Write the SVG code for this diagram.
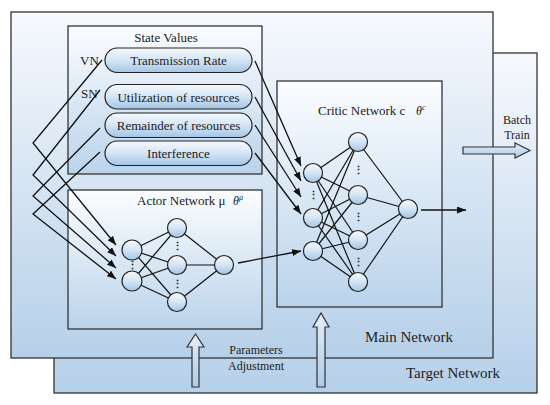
<svg xmlns="http://www.w3.org/2000/svg" width="550" height="405" viewBox="0 0 550 405">
<defs>
<linearGradient id="gBg" x1="0" y1="0" x2="0" y2="1">
<stop offset="0" stop-color="#f6f9fd"/>
<stop offset="1" stop-color="#b6d0e9"/>
</linearGradient>
<linearGradient id="gBox" x1="0" y1="0" x2="0" y2="1">
<stop offset="0" stop-color="#fbfdff"/>
<stop offset="1" stop-color="#bad3eb"/>
</linearGradient>
<linearGradient id="gPill" x1="0" y1="0" x2="0" y2="1">
<stop offset="0" stop-color="#f6f9fd"/>
<stop offset="0.5" stop-color="#d4e5f5"/>
<stop offset="1" stop-color="#a4c5e5"/>
</linearGradient>
<linearGradient id="gArr" x1="0" y1="0" x2="0" y2="1">
<stop offset="0" stop-color="#e4eef8"/>
<stop offset="1" stop-color="#aecbe7"/>
</linearGradient>
<marker id="ah" markerUnits="userSpaceOnUse" markerWidth="9" markerHeight="7" refX="9" refY="3.5" orient="auto">
<path d="M0,0 L9,3.5 L0,7 z" fill="#111"/>
</marker>
</defs>
<style>
.frame{stroke:#333;stroke-width:1.3}
.box{fill:url(#gBox);stroke:#333;stroke-width:1.3}
.pill{fill:url(#gPill);stroke:#222;stroke-width:1.2}
.node{fill:url(#gPill);stroke:#222;stroke-width:1.2}
.ln{stroke:#111;stroke-width:1.2;fill:none}
.arw{stroke:#111;stroke-width:1.3;fill:none;marker-end:url(#ah)}
.blk{fill:url(#gArr);stroke:#333;stroke-width:1.2}
text{fill:#222}
.t13{font-size:13px}
.t12{font-size:12px}
.t15{font-size:15px}
.dots{font-size:11px;font-weight:bold}
.th{font-style:italic;font-size:12px}
</style>
<g font-family="Liberation Serif, Times New Roman, Times, DejaVu Serif, serif">
<g id="target-network">
<rect x="54" y="53" width="483" height="340" fill="url(#gBg)" class="frame"/>
<text x="453" y="378" text-anchor="middle" class="t15">Target Network</text>
</g>

<g id="main-network">
<rect x="11" y="12" width="482" height="346" fill="url(#gBg)" class="frame"/>
<text x="409" y="342" text-anchor="middle" class="t15">Main Network</text>
</g>

<g id="state-values">
<rect x="68" y="26" width="194" height="148" class="box"/>
<text x="166" y="42" text-anchor="middle" class="t13">State Values</text>
<text x="80" y="65" class="t13">VN</text>
<text x="81" y="98" class="t13">SN</text>
</g>
<g id="transmission-rate">
<rect x="105" y="48" width="147" height="24.5" rx="12.25" class="pill"/>
<text x="178.5" y="65" text-anchor="middle" class="t13">Transmission Rate</text>
</g>
<g id="utilization">
<rect x="105" y="84.5" width="147" height="24.5" rx="12.25" class="pill"/>
<text x="178.5" y="101.5" text-anchor="middle" class="t13">Utilization of resources</text>
</g>
<g id="remainder">
<rect x="105" y="113" width="147" height="24.5" rx="12.25" class="pill"/>
<text x="178.5" y="130" text-anchor="middle" class="t13">Remainder of resources</text>
</g>
<g id="interference">
<rect x="105" y="141" width="147" height="24.5" rx="12.25" class="pill"/>
<text x="178.5" y="158" text-anchor="middle" class="t13">Interference</text>
</g>

<g id="actor-network">
<rect x="68" y="190" width="194" height="139" class="box"/>
<text x="137" y="205" class="t13">Actor Network  μ</text>
<text x="233" y="205" class="th">θ<tspan font-size="8" dy="-5">μ</tspan></text>
</g>

<g id="critic-network">
<rect x="277" y="81" width="165" height="226" class="box"/>
<text x="318" y="115" class="t13">Critic Network c</text>
<text x="416" y="115" class="th">θ<tspan font-size="8" dy="-5">c</tspan></text>
</g>

<g id="connectors">
<polyline class="arw" points="102,60 33,143 116,245"/>
<polyline class="arw" points="100,90 33,175 116,256"/>
<polyline class="arw" points="100,128 33,196 116,268"/>
<polyline class="arw" points="100,152 33,214 116,279"/>
<line class="arw" x1="255" y1="61" x2="301" y2="166"/>
<line class="arw" x1="255" y1="97" x2="301" y2="181"/>
<line class="arw" x1="255" y1="125" x2="301" y2="197"/>
<line class="arw" x1="255" y1="153" x2="301" y2="214"/>
<line class="ln" x1="132" y1="250" x2="177" y2="228"/>
<line class="ln" x1="132" y1="250" x2="177" y2="265"/>
<line class="ln" x1="132" y1="250" x2="177" y2="302"/>
<line class="ln" x1="132" y1="281" x2="177" y2="228"/>
<line class="ln" x1="132" y1="281" x2="177" y2="265"/>
<line class="ln" x1="132" y1="281" x2="177" y2="302"/>
<line class="ln" x1="177" y1="228" x2="224" y2="265"/>
<line class="ln" x1="177" y1="265" x2="224" y2="265"/>
<line class="ln" x1="177" y1="302" x2="224" y2="265"/>
<line class="arw" x1="238" y1="263" x2="301" y2="251"/>
<line class="ln" x1="313" y1="173" x2="358" y2="142"/>
<line class="ln" x1="313" y1="173" x2="358" y2="195"/>
<line class="ln" x1="313" y1="173" x2="358" y2="240"/>
<line class="ln" x1="313" y1="173" x2="358" y2="282"/>
<line class="ln" x1="313" y1="218" x2="358" y2="142"/>
<line class="ln" x1="313" y1="218" x2="358" y2="195"/>
<line class="ln" x1="313" y1="218" x2="358" y2="240"/>
<line class="ln" x1="313" y1="218" x2="358" y2="282"/>
<line class="ln" x1="313" y1="251" x2="358" y2="142"/>
<line class="ln" x1="313" y1="251" x2="358" y2="195"/>
<line class="ln" x1="313" y1="251" x2="358" y2="240"/>
<line class="ln" x1="313" y1="251" x2="358" y2="282"/>
<line class="ln" x1="358" y1="142" x2="408" y2="209"/>
<line class="ln" x1="358" y1="195" x2="408" y2="209"/>
<line class="ln" x1="358" y1="240" x2="408" y2="209"/>
<line class="ln" x1="358" y1="282" x2="408" y2="209"/>
<line class="arw" x1="421" y1="210" x2="466" y2="210"/>
</g>

<g id="actor-nodes">
<circle cx="132" cy="250" r="10" class="node"/>
<circle cx="132" cy="281" r="10" class="node"/>
<circle cx="177" cy="228" r="9.5" class="node"/>
<circle cx="177" cy="265" r="9.5" class="node"/>
<circle cx="177" cy="302" r="9.5" class="node"/>
<circle cx="224" cy="265" r="9.5" class="node"/>
<text x="132" y="269" text-anchor="middle" class="dots">⋮</text>
<text x="177" y="250" text-anchor="middle" class="dots">⋮</text>
<text x="177" y="288" text-anchor="middle" class="dots">⋮</text>
</g>

<g id="critic-nodes">
<circle cx="313" cy="173" r="9.5" class="node"/>
<circle cx="313" cy="218" r="9.5" class="node"/>
<circle cx="313" cy="251" r="9.5" class="node"/>
<circle cx="358" cy="142" r="9.5" class="node"/>
<circle cx="358" cy="195" r="9.5" class="node"/>
<circle cx="358" cy="240" r="9.5" class="node"/>
<circle cx="358" cy="282" r="9.5" class="node"/>
<circle cx="408" cy="209" r="9.5" class="node"/>
<text x="313" y="199" text-anchor="middle" class="dots">⋮</text>
<text x="358" y="174" text-anchor="middle" class="dots">⋮</text>
<text x="358" y="221" text-anchor="middle" class="dots">⋮</text>
<text x="358" y="266" text-anchor="middle" class="dots">⋮</text>
</g>

<g id="batch-train">
<path class="blk" d="M463,147 L515,147 L515,143 L530,150.5 L515,158 L515,154 L463,154 z"/>
<text x="517" y="124" text-anchor="middle" class="t12">Batch</text>
<text x="517" y="139" text-anchor="middle" class="t12">Train</text>
</g>

<g id="parameters-adjustment">
<path class="blk" d="M192,387 L192,347 L187,347 L195.5,334 L204,347 L199,347 L199,387 z"/>
<path class="blk" d="M317,387 L317,327 L313,327 L321,313 L329,327 L325,327 L325,387 z"/>
<text x="256" y="354" text-anchor="middle" class="t12">Parameters</text>
<text x="256" y="370" text-anchor="middle" class="t12">Adjustment</text>
</g>
</g>
</svg>
